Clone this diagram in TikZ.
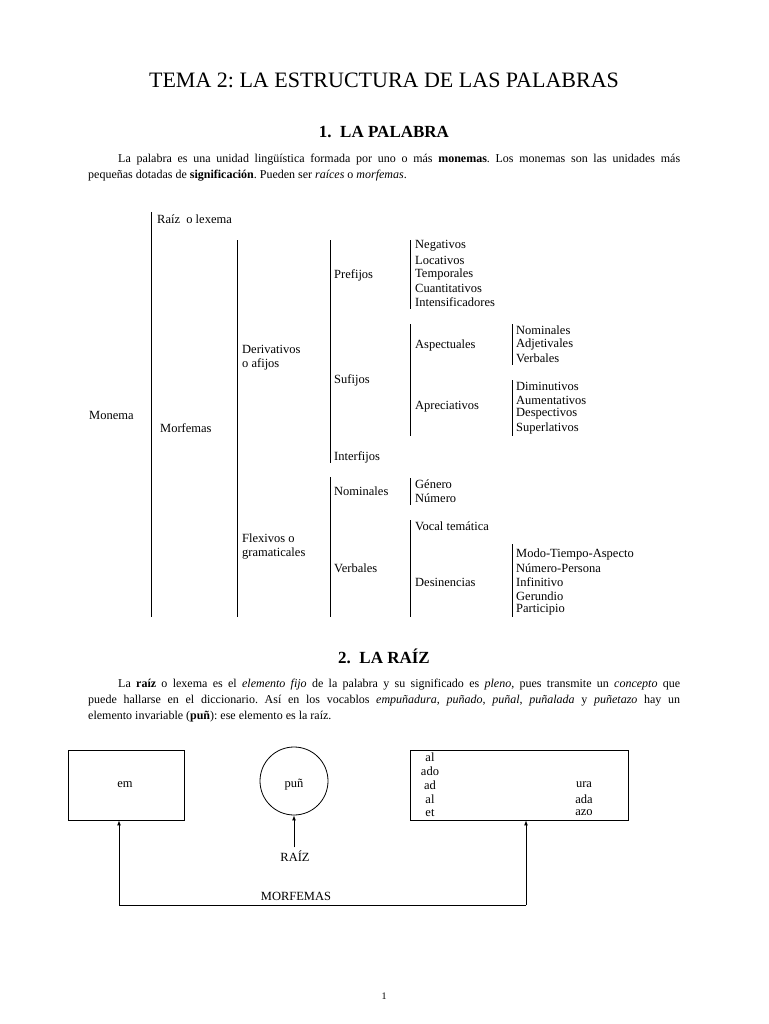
\documentclass[tikz,border=0pt]{standalone}
\usepackage{fontspec}
\setmainfont{Liberation Serif}
\begin{document}
\frenchspacing
\begin{tikzpicture}[x=1pt,y=-1pt,
  t/.style={anchor=west,inner sep=0pt,font=\fontsize{12.5}{14}\selectfont},
  tc/.style={inner sep=0pt,font=\fontsize{12.5}{14}\selectfont},
  br/.style={line width=0.8pt},
  ar/.style={-latex,line width=0.7pt},
  para/.style={anchor=north west,inner sep=0pt,text width=592pt,align=justify,font=\fontsize{12}{15.7}\selectfont}]
\useasboundingbox (0,0) rectangle (768,1024);
\node[inner sep=0pt,font=\fontsize{22}{26}\selectfont] (title) at (384,80) {TEMA 2: LA ESTRUCTURA DE LAS PALABRAS};
\node[inner sep=0pt,font=\fontsize{17}{20}\bfseries] (h1) at (384,132) {1.\enspace LA PALABRA};
\node[para] (p1) at (88,154) {\parindent=30pt\indent La palabra es una unidad lingüística formada por uno o más \textbf{monemas}. Los monemas son las unidades más\linebreak pequeñas dotadas de \textbf{significación}. Pueden ser \textit{raíces} o \textit{morfemas}.};
% tree
\draw[br] (151,212) -- (151,617);
\draw[br] (237,240) -- (237,617);
\draw[br] (330,240) -- (330,463);
\draw[br] (330,477) -- (330,617);
\draw[br] (410,240) -- (410,309);
\draw[br] (410,324) -- (410,436);
\draw[br] (410,478) -- (410,505);
\draw[br] (410,520) -- (410,617);
\draw[br] (512,324) -- (512,365);
\draw[br] (512,380) -- (512,436);
\draw[br] (512,544) -- (512,617);
\node[t] (monema) at (89,415) {Monema};
\node[t] (raiz) at (157,219) {Raíz\ \ o lexema};
\node[t] (morf) at (160,428) {Morfemas};
\node[t,align=left] (deriv) at (242,358) {Derivativos\\o afijos};
\node[t,align=left] (flex) at (242,547) {Flexivos o\\gramaticales};
\node[t] (pref) at (334,275) {Prefijos};
\node[t] (suf) at (334,380) {Sufijos};
\node[t] (inter) at (334,457) {Interfijos};
\node[t] (nom) at (334,491) {Nominales};
\node[t] (verb) at (334,568) {Verbales};
\node[t] (n1) at (415,246) {Negativos};
\node[t] (n2) at (415,260) {Locativos};
\node[t] (n3) at (415,274) {Temporales};
\node[t] (n4) at (415,288) {Cuantitativos};
\node[t] (n5) at (415,302) {Intensificadores};
\node[t] (asp) at (415,345) {Aspectuales};
\node[t] (apr) at (415,407) {Apreciativos};
\node[t] (gen) at (415,484) {Género};
\node[t] (num) at (415,498) {Número};
\node[t] (voc) at (415,526) {Vocal temática};
\node[t] (des) at (415,582) {Desinencias};
\node[t] (s1) at (516,330) {Nominales};
\node[t] (s2) at (516,344) {Adjetivales};
\node[t] (s3) at (516,358) {Verbales};
\node[t] (d1) at (516,386) {Diminutivos};
\node[t] (d2) at (516,400) {Aumentativos};
\node[t] (d3) at (516,414) {Despectivos};
\node[t] (d4) at (516,428) {Superlativos};
\node[t] (m1) at (516,554) {Modo-Tiempo-Aspecto};
\node[t] (m2) at (516,568) {Número-Persona};
\node[t] (m3) at (516,582) {Infinitivo};
\node[t] (m4) at (516,596) {Gerundio};
\node[t] (m5) at (516,610) {Participio};
% section 2
\node[inner sep=0pt,font=\fontsize{17}{20}\bfseries] (h2) at (384,656) {2.\enspace LA RAÍZ};
\node[para] (p2) at (88,679) {\parindent=30pt\indent La \textbf{raíz} o lexema es el \textit{elemento fijo} de la palabra y su significado es \textit{pleno}, pues transmite un \textit{concepto} que\linebreak puede hallarse en el diccionario. Así en los vocablos \textit{empuñadura}, \textit{puñado}, \textit{puñal}, \textit{puñalada} y \textit{puñetazo} hay un\linebreak elemento invariable (\textbf{puñ}): ese elemento es la raíz.};
% bottom diagram
\node[draw,line width=0.8pt,minimum width=116pt,minimum height=70pt,inner sep=0pt] (b1) at (126,785) {};
\node[tc] (em) at (125,785) {em};
\node[draw,circle,line width=0.8pt,minimum size=68pt,inner sep=0pt] (c) at (294,781) {};
\node[tc] (pun) at (294,785) {puñ};
\node[draw,line width=0.8pt,minimum width=218pt,minimum height=70pt,inner sep=0pt] (b2) at (519,785) {};
\node[tc] (r1) at (430,757) {al};
\node[tc] (r2) at (430,771) {ado};
\node[tc] (r3) at (430,785) {ad};
\node[tc] (r4) at (430,799) {al};
\node[tc] (r5) at (430,813) {et};
\node[tc] (q1) at (584,785) {ura};
\node[tc] (q2) at (584,799) {ada};
\node[tc] (q3) at (584,813) {azo};
\node[tc] (rz) at (295,856) {RAÍZ};
\draw[ar] (c.south |- rz.north) ++(0,-3) -- (c.south);
\node[tc] (mf) at (296,896) {MORFEMAS};
\coordinate (k1) at (119,905);
\coordinate (k2) at (526,905);
\draw[line width=0.7pt] (k1) -- (k2);
\draw[ar] (k1) -- (k1 |- b1.south);
\draw[ar] (k2) -- (k2 |- b2.south);
\node[inner sep=0pt,font=\fontsize{10}{12}\selectfont] (pg) at (384,996) {1};
\end{tikzpicture}
\end{document}
